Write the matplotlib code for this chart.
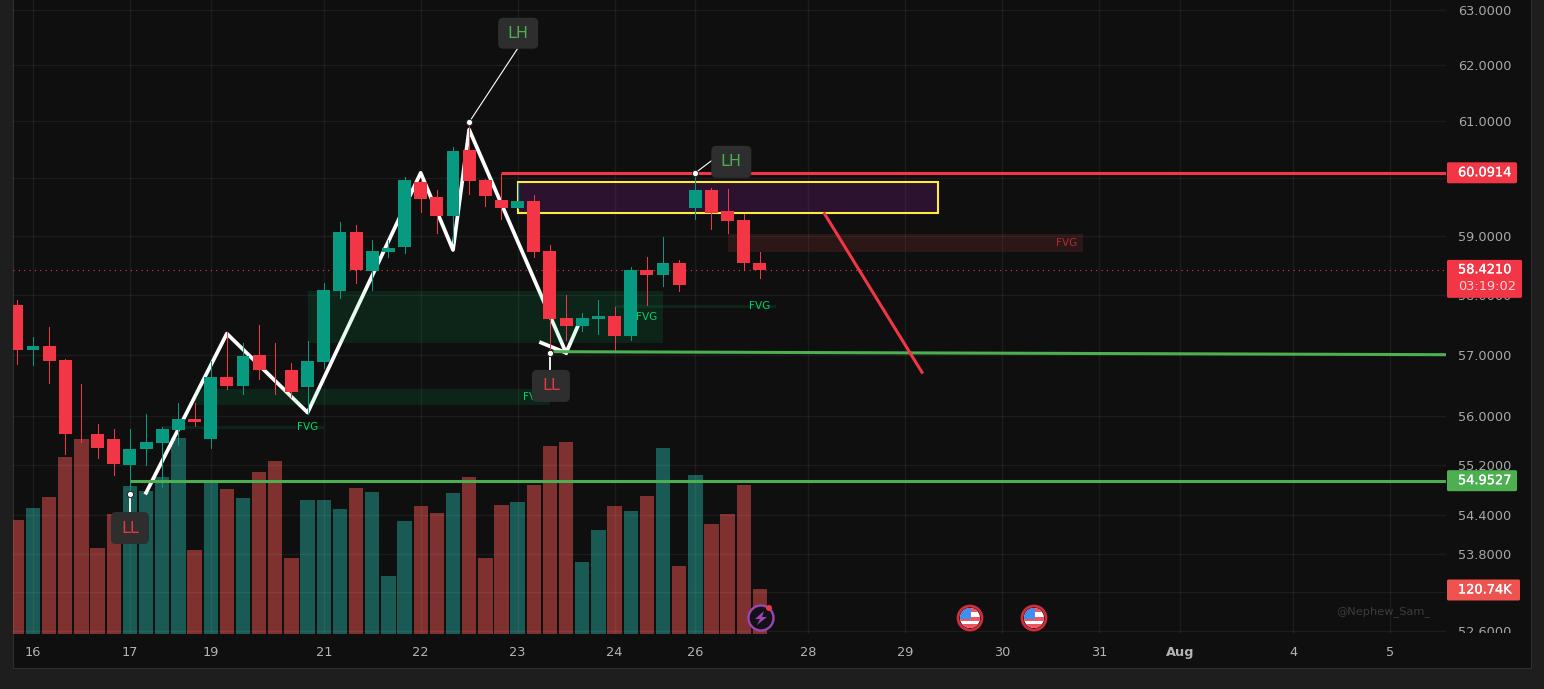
import numpy as np
import matplotlib
matplotlib.use('Agg')
import matplotlib.pyplot as plt
import matplotlib.patheffects as pe
from matplotlib.patches import Circle, FancyBboxPatch, Rectangle, Polygon
from matplotlib.transforms import Bbox, IdentityTransform

# candle data
opens = [57.83, 57.07, 57.14, 56.92, 55.71, 55.70, 55.62, 55.20, 55.46, 55.55, 55.76, 55.95,
         55.62, 56.64, 56.48, 57.00, 56.75, 56.75, 56.46, 56.88, 58.07, 59.07, 58.40, 58.73,
         58.81, 59.93, 59.67, 59.34, 60.49, 59.97, 59.62, 59.48, 59.60, 58.75, 57.61, 57.47,
         57.59, 57.65, 57.31, 58.42, 58.33, 58.53, 59.48, 59.79, 59.43, 59.28, 58.53]
closes = [57.07, 57.14, 56.90, 55.71, 55.70, 55.47, 55.22, 55.46, 55.57, 55.78, 55.95, 55.90,
          56.64, 56.48, 56.98, 56.75, 56.74, 56.39, 56.90, 58.08, 59.07, 58.42, 58.75, 58.80,
          59.97, 59.64, 59.34, 60.47, 59.95, 59.69, 59.48, 59.60, 58.73, 57.59, 57.47, 57.61,
          57.65, 57.31, 58.42, 58.33, 58.54, 58.17, 59.79, 59.40, 59.26, 58.53, 58.42]
highs = [57.92, 57.29, 57.46, 56.93, 56.51, 55.87, 55.79, 55.78, 56.02, 55.81, 56.21, 56.20,
         56.90, 57.37, 57.20, 57.49, 57.19, 56.87, 57.22, 58.20, 59.24, 59.19, 58.93, 58.93,
         60.02, 59.98, 59.79, 60.54, 60.93, 59.98, 60.07, 59.91, 59.71, 58.85, 58.00, 57.70,
         57.92, 57.80, 58.47, 58.64, 58.98, 58.59, 60.09, 59.83, 59.81, 59.38, 58.73]
lows = [56.85, 56.83, 56.54, 55.38, 55.58, 55.31, 55.04, 54.74, 55.20, 54.85, 55.52, 55.84,
        55.47, 56.44, 56.36, 56.60, 56.36, 56.31, 56.03, 56.78, 57.95, 58.20, 58.08, 58.64,
        58.71, 59.41, 59.05, 58.88, 59.72, 59.52, 59.29, 59.48, 58.64, 57.07, 57.24, 57.39,
        57.34, 57.07, 57.25, 57.83, 58.15, 58.07, 59.29, 59.12, 59.05, 58.42, 58.28]
volumes = [306, 338, 368, 475, 523, 231, 322, 397, 384, 421, 526, 225, 405, 389, 365, 435,
           464, 204, 360, 360, 335, 392, 381, 156, 303, 343, 325, 378, 421, 204, 346, 354,
           400, 504, 515, 193, 279, 343, 330, 370, 499, 182, 427, 295, 322, 400, 120.74]

date_pos = [1, 7, 12, 19, 25, 31, 37, 42, 49, 55, 61, 67, 72, 79, 85]
date_labels = ['16', '17', '19', '21', '22', '23', '24', '26', '28', '29', '30', '31', 'Aug', '4', '5']
price_ticks = [63, 62, 61, 60, 59, 58, 57, 56, 55.2, 54.4, 53.8, 53.2, 52.6]

# white zigzag
zig_x = [8, 13, 18, 25, 27, 28, 34, 34.7]
zig_y = [54.76, 57.35, 56.05, 60.09, 58.76, 60.85, 57.03, 57.46]
zig2_x = [32.45, 34]
zig2_y = [57.20, 57.03]

# FVG zones
zone_left = [18, 11, 9, 37]
zone_right = [40, 33, 19, 47]
zone_top = [58.07, 56.44, 55.84, 57.83]
zone_bottom = [57.20, 56.18, 55.79, 57.78]
red_zone = [44, 66, 59.03, 58.73]
box_zone = [31, 57, 59.93, 59.40]

BG = '#0f0f0f'
OUTER = '#1e1e1e'
RED = '#f23645'
GREEN = '#089981'
LINE_GREEN = '#4caf50'
W, H = 1544, 689

fig = plt.figure(figsize=(W / 100, H / 100), dpi=100, facecolor=OUTER)

def axes_rect(x0, y0, x1, y1):
    return [x0 / W, 1 - y1 / H, (x1 - x0) / W, (y1 - y0) / H]

panel = fig.add_axes(axes_rect(13, -2, 1531, 668))
panel.set_facecolor(BG)
panel.set_xticks([])
panel.set_yticks([])
for s in panel.spines.values():
    s.set_color('#2e2e2e')

xlim = (-0.238, 88.47)

# volume underneath
vol = fig.add_axes(axes_rect(13, 0, 1446, 634))
vol.patch.set_visible(False)
vol.axis('off')
vol.set_xlim(xlim)
vol.set_ylim(0, 1701)
vol_colors = ['#26a69a' if c >= o else '#ef5350' for o, c in zip(opens, closes)]
vol.bar(range(len(volumes)), volumes, width=0.89, color=vol_colors, alpha=0.5)

ax = fig.add_axes(axes_rect(13, 0, 1446, 634))
ax.patch.set_visible(False)
ax.set_yscale('log')
ax.set_xlim(xlim)
ax.set_ylim(52.56, 63.183)
for s in ax.spines.values():
    s.set_visible(False)

ax.yaxis.tick_right()
ax.set_yticks(price_ticks, ['%.4f' % p for p in price_ticks])
ax.minorticks_off()
ax.set_xticks(date_pos, date_labels)
ax.tick_params(axis='both', length=0, labelsize=9.3, labelcolor='#a8a8a8')
ax.tick_params(axis='x', pad=8.7, labelcolor='#b4b4b4')
ax.tick_params(axis='y', pad=8.6)
ax.grid(True, color='white', alpha=0.055, lw=1)
ax.set_axisbelow(True)
ax.get_xticklabels()[date_labels.index('Aug')].set_fontweight('bold')

# bottom tick label is cut by the time axis
fig.canvas.draw()
cut = Bbox([[0, H - 633], [W, H]])
ax.get_yticklabels()[-1].set_clip_box(cut)
ax.get_yticklabels()[-1].set_clip_on(True)

# zones
for l, r, t, b in zip(zone_left, zone_right, zone_top, zone_bottom):
    ax.add_patch(Rectangle((l, b), r - l, t - b, fc='#00e676', alpha=0.1, lw=0, zorder=1))
    ax.text(r - 1, (t + b) / 2, 'FVG', color='#00d26a', fontsize=7.6, ha='center', va='center', zorder=4)
ax.add_patch(Rectangle((red_zone[0], red_zone[3]), red_zone[1] - red_zone[0], red_zone[2] - red_zone[3],
                       fc='#ff5252', alpha=0.12, lw=0, zorder=1))
ax.text(red_zone[1] - 1, (red_zone[2] + red_zone[3]) / 2, 'FVG', color='#b02a35', fontsize=7.6,
        ha='center', va='center', zorder=4)
ax.add_patch(Rectangle((box_zone[0], box_zone[3]), box_zone[1] - box_zone[0], box_zone[2] - box_zone[3],
                       fc=(0.61, 0.15, 0.69, 0.2), ec='#ffeb3b', lw=1.5, zorder=1.2))

# zigzag under the zones and candles
ax.plot(zig_x, zig_y, color='white', lw=2.7, zorder=0.9, solid_joinstyle='round')
ax.plot(zig2_x, zig2_y, color='white', lw=2.7, zorder=0.9)

# candles
idx = np.arange(len(opens))
cols = [GREEN if c >= o else RED for o, c in zip(opens, closes)]
ax.vlines(idx, lows, highs, colors=cols, lw=0.72, zorder=2.2, antialiased=False)
ax.bar(idx, np.abs(np.array(closes) - np.array(opens)), bottom=np.minimum(opens, closes),
       width=0.8, color=cols, zorder=2.3)

# lines
ax.axhline(58.421, color=RED, lw=0.8, ls=(0, (1, 3.8)), zorder=0.8)
ax.plot([30.0, 88.47], [60.0914, 60.0914], color=RED, lw=2.2, zorder=2.5, solid_capstyle='butt')
ax.plot([7, 88.47], [54.9527, 54.9527], color=LINE_GREEN, lw=2.2, zorder=2.5, solid_capstyle='butt')
ax.plot([33.2, 88.47], [57.05, 57.0], color=LINE_GREEN, lw=2.2, zorder=2.5, solid_capstyle='butt')
ax.plot([50, 56.03], [59.38, 56.71], color=RED, lw=2.2, zorder=2.5)


def disp(i, price):
    return ax.transData.transform((i, price))


# LH / LL pivots with their badges
def badge(i, price, dx, dy, lx, ly, w, h, text, color, lw):
    x, y = disp(i, price)
    ax.plot([x, x + lx], [y, y + ly], color='white', lw=lw, transform=IdentityTransform(),
            zorder=5, clip_on=False)
    ax.add_patch(FancyBboxPatch((x + dx - w / 2 + 3, y + dy - h / 2 + 3), w - 6, h - 6,
                                boxstyle='round,pad=3,rounding_size=5', fc='#2e2e2e', ec='none',
                                transform=IdentityTransform(), zorder=5.1, clip_on=False))
    ax.text(x + dx, y + dy, text, color=color, fontsize=11.5, ha='center', va='center',
            transform=IdentityTransform(), zorder=5.2)
    ax.plot([i], [price], 'o', ms=4.5, mfc='white', mec='#222222', mew=0.7, zorder=5.3)


badge(28, 60.98, 49, 89, 48, 73, 40, 31, 'LH', LINE_GREEN, 0.8)
badge(42, 60.09, 36, 11, 16, 12, 40, 32, 'LH', LINE_GREEN, 0.8)
badge(7, 54.74, 0, -34, 0, -18, 38, 32, 'LL', '#e53945', 1.3)
badge(33, 57.03, 1, -33, 0, -18, 38, 32, 'LL', '#e53945', 1.3)

stroke = [pe.withStroke(linewidth=0.2, foreground='white')]


# labels on the price scale
def tag(y, width, lines, color):
    if len(lines) == 1:
        y0, y1 = y - 10.5, y + 10.5
    else:
        y0, y1 = y - 28, y + 10
    ax.add_patch(FancyBboxPatch((1448, y0 + 1), width - 2, y1 - y0 - 2, boxstyle='round,pad=1,rounding_size=1.5',
                                fc=color, ec='none', transform=IdentityTransform(), zorder=6, clip_on=False))
    ax.text(1458, y, lines[0], color='white', fontsize=9.3, va='center', transform=IdentityTransform(),
            zorder=6.1, clip_on=False, path_effects=stroke)
    if len(lines) > 1:
        ax.text(1458, y - 17, lines[1], color='#ffd5d9', fontsize=9.3, va='center',
                transform=IdentityTransform(), zorder=6.1, clip_on=False)


tag(disp(0, 60.0914)[1], 70, ['60.0914'], RED)
tag(disp(0, 58.421)[1], 75, ['58.4210', '03:19:02'], RED)
tag(disp(0, 54.9527)[1], 70, ['54.9527'], LINE_GREEN)
tag(vol.transData.transform((0, 120.74))[1] - 1, 73, ['120.74K'], '#ef5350')

ax.text(1383, H - 612, '@Nephew_Sam_', color='#3c3c3c', fontsize=8.2, ha='center', va='center',
        transform=IdentityTransform(), zorder=1)


# event icons along the bottom
def flag(cx):
    cy = H - 618
    t = IdentityTransform()
    ax.add_patch(Circle((cx, cy), 12, fc='#0f0f0f', ec='#d12c3c', lw=2, transform=t, zorder=4, clip_on=False))
    disc = Circle((cx, cy), 10, fc='white', ec='none', transform=t, zorder=4.1, clip_on=False)
    ax.add_patch(disc)
    for top, h in [(cy + 10, 3.5), (cy + 1, 4), (cy - 6, 3.5)]:
        r = Rectangle((cx - 10, top - h), 20, h, fc='#f0565f', lw=0, transform=t, zorder=4.2)
        ax.add_patch(r)
        r.set_clip_path(disc)
    c = Rectangle((cx - 10, cy - 1), 11, 11, fc='#3f8ff0', lw=0, transform=t, zorder=4.3)
    ax.add_patch(c)
    c.set_clip_path(disc)


flag(970)
flag(1034)

t = IdentityTransform()
cy = H - 618
ax.add_patch(Circle((761, cy), 12.5, fc='#131018', ec='#9b45b4', lw=1.7, transform=t, zorder=4, clip_on=False))
ax.add_patch(Polygon([(764, cy + 7), (755, cy - 1), (760, cy - 1), (757, cy - 7), (767, cy + 1), (762, cy + 1)],
                     fc='#9b45b4', lw=0, transform=t, zorder=4.1, clip_on=False))
ax.add_patch(Circle((769, H - 608), 3, fc=RED, lw=0, transform=t, zorder=4.2, clip_on=False))

fig.savefig('out.png', dpi=100, facecolor=OUTER)
